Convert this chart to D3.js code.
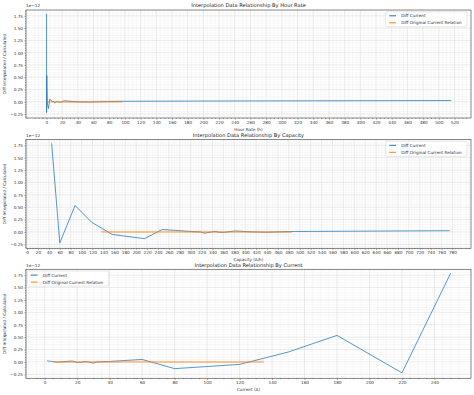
<!DOCTYPE html>
<html>
<head>
<meta charset="utf-8">
<script src="https://cdn.jsdelivr.net/npm/d3@7"></script>
<style>
  body { margin: 0; background: #fff; }
  svg { font-family: "DejaVu Sans", sans-serif; }
</style>
</head>
<body>
<svg id="chart" width="474" height="395"></svg>
<script>
// values are in units of 1e-12
const currentA   = [250, 220, 180, 150, 120, 80, 60, 40, 32, 30, 27, 25, 22, 20, 17, 15, 12, 10, 8, 7, 6, 5, 4, 3, 2, 1.5];
const capacityAh = [45, 60, 88, 118, 156, 215, 248, 300, 318, 325, 338, 345, 352, 360, 380, 392, 405, 420, 440, 455, 470, 490, 530, 590, 680, 775];
const hourRateH  = [0.18, 0.27, 0.49, 0.79, 1.3, 2.7, 4.1, 7.5, 9.9, 10.8, 12.5, 13.8, 16, 18, 22.4, 26.1, 33.8, 42, 55, 65, 78, 98, 132, 197, 340, 516];
const diffCurrent = [1.79, -0.22, 0.535, 0.2, -0.05, -0.135, 0.05, 0.01, 0.0, -0.025, 0.0, 0.01, -0.005, -0.01, 0.02, 0.015, 0.005, 0.0, -0.005, 0.0, 0.005, 0.01, 0.012, 0.015, 0.02, 0.025];

const origCurrentA   = [135, 120, 100, 80, 60, 40, 30, 20, 15, 10, 7, 5];
const origCapacityAh = [136, 156, 185, 215, 248, 300, 325, 360, 392, 420, 455, 485];
const origHourRateH  = [1.0, 1.3, 1.85, 2.7, 4.1, 7.5, 10.8, 18, 26.1, 42, 65, 97];
const origDiff       = [0.002, -0.003, 0.001, -0.002, 0.003, -0.001, 0.002, -0.003, 0.001, -0.002, 0.001, 0.0];

const yTicks = [-0.25, 0, 0.25, 0.5, 0.75, 1.0, 1.25, 1.5, 1.75];
const seriesNames = ["Diff Current", "Diff Original Current Relation"];

const BLUE = "#1f77b4", ORANGE = "#ff7f0e";
const LEFT = 26, RIGHT = 471;
const svg = d3.select("#chart");

const panels = [
    {title: "Interpolation Data Relationship By Hour Rate", xlabel: "Hour Rate (h)",
     x: hourRateH, ox: origHourRateH, xdom: [-26, 541], xmax: 520,
     top: 10, bottom: 118, legend: "right"},
    {title: "Interpolation Data Relationship By Capacity", xlabel: "Capacity (A/h)",
     x: capacityAh, ox: origCapacityAh, xdom: [-2, 814], xmax: 780,
     top: 139.5, bottom: 248.3, legend: "right"},
    {title: "Interpolation Data Relationship By Current", xlabel: "Current (A)",
     x: currentA, ox: origCurrentA, xdom: [-11.5, 262.5], xmax: 240,
     top: 269.3, bottom: 378.3, legend: "left"}
];

panels.forEach(drawPanel);

function drawPanel(p) {
    let xScale = d3.scaleLinear().domain(p.xdom).range([LEFT, RIGHT]);
    let yScale = d3.scaleLinear().domain([-0.33, 1.868]).range([p.bottom, p.top]);

    let g = svg.append("g");

    let xMajor = d3.range(0, p.xmax + 1, 20);
    let xMinor = d3.range(Math.ceil(p.xdom[0] / 5) * 5, p.xdom[1], 5).filter(v => v % 20 != 0);
    let yMinor = d3.range(-0.3, 1.86, 0.05).filter(v => Math.abs(v / 0.25 - Math.round(v / 0.25)) > 0.01);

    // grid
    let grid = g.append("g");
    grid.selectAll(".gxm").data(xMinor).join("line")
        .attr("x1", d => xScale(d)).attr("x2", d => xScale(d))
        .attr("y1", p.top).attr("y2", p.bottom)
        .attr("stroke", "#f0f0f0").attr("stroke-width", 0.5);
    grid.selectAll(".gym").data(yMinor).join("line")
        .attr("y1", d => yScale(d)).attr("y2", d => yScale(d))
        .attr("x1", LEFT).attr("x2", RIGHT)
        .attr("stroke", "#f0f0f0").attr("stroke-width", 0.5);
    grid.selectAll(".gx").data(xMajor).join("line")
        .attr("x1", d => xScale(d)).attr("x2", d => xScale(d))
        .attr("y1", p.top).attr("y2", p.bottom)
        .attr("stroke", "#dedede").attr("stroke-width", 0.6);
    grid.selectAll(".gy").data(yTicks).join("line")
        .attr("y1", d => yScale(d)).attr("y2", d => yScale(d))
        .attr("x1", LEFT).attr("x2", RIGHT)
        .attr("stroke", "#dedede").attr("stroke-width", 0.6);

    // lines
    let line = d3.line().x(d => xScale(d[0])).y(d => yScale(d[1]));
    let blue = d3.sort(p.x.map((v, i) => [v, diffCurrent[i]]), d => d[0]);
    let orange = d3.sort(p.ox.map((v, i) => [v, origDiff[i]]), d => d[0]);
    g.append("path").datum(blue).attr("d", line)
        .attr("fill", "none").attr("stroke", BLUE).attr("stroke-width", 0.9)
        .attr("stroke-opacity", 0.85);
    g.append("path").datum(orange).attr("d", line)
        .attr("fill", "none").attr("stroke", ORANGE).attr("stroke-width", 2)
        .attr("stroke-opacity", 0.45);

    // axes
    g.append("g").attr("transform", `translate(0,${p.bottom})`)
        .call(d3.axisBottom(xScale).tickValues(xMajor).tickSize(1.5).tickPadding(1.5).tickFormat(d3.format("d")));
    g.append("g").attr("transform", `translate(0,${p.bottom})`)
        .call(d3.axisBottom(xScale).tickValues(xMinor).tickSize(0.9).tickFormat(""));
    g.append("g").attr("transform", `translate(${LEFT},0)`)
        .call(d3.axisLeft(yScale).tickValues(yTicks).tickSize(1.5).tickPadding(1.5).tickFormat(d3.format(".2f")));
    g.append("g").attr("transform", `translate(${LEFT},0)`)
        .call(d3.axisLeft(yScale).tickValues(yMinor).tickSize(0.9).tickFormat(""));
    g.selectAll(".domain").remove();
    g.selectAll(".tick line").attr("stroke", "#333").attr("stroke-width", 0.5);
    g.selectAll(".tick text").attr("font-size", 4.2).attr("fill", "#333")
        .attr("font-family", "DejaVu Sans");

    // frame
    g.append("rect").attr("x", LEFT).attr("y", p.top)
        .attr("width", RIGHT - LEFT).attr("height", p.bottom - p.top)
        .attr("fill", "none").attr("stroke", "#555").attr("stroke-width", 0.7);

    // texts
    let mid = (LEFT + RIGHT) / 2;
    g.append("text").attr("x", mid).attr("y", p.top - 2.6)
        .attr("text-anchor", "middle").attr("font-size", 5.1).attr("fill", "#222")
        .text(p.title);
    g.append("text").attr("x", LEFT).attr("y", p.top - 2.6)
        .attr("font-size", 4.2).attr("fill", "#333").text("1e\u221212");
    g.append("text").attr("x", mid).attr("y", p.bottom + 12.6)
        .attr("text-anchor", "middle").attr("font-size", 4.2).attr("fill", "#333")
        .text(p.xlabel);
    g.append("text")
        .attr("transform", `translate(6.2,${(p.top + p.bottom) / 2}) rotate(-90)`)
        .attr("text-anchor", "middle").attr("font-size", 4.2).attr("fill", "#333")
        .text("Diff Interpolated / Calculated");

    // legend
    let lx = p.legend == "right" ? 385.7 : 27.3;
    let leg = g.append("g").attr("transform", `translate(${lx},${p.top + 1.8})`);
    leg.append("rect").attr("width", 81.3).attr("height", 15)
        .attr("rx", 1).attr("fill", "#fff").attr("fill-opacity", 0.85)
        .attr("stroke", "#d0d0d0").attr("stroke-width", 0.5);
    [BLUE, ORANGE].forEach((c, i) => {
        let yy = 4 + i * 7;
        leg.append("line").attr("x1", 3.5).attr("x2", 10.3).attr("y1", yy).attr("y2", yy)
            .attr("stroke", c).attr("stroke-width", 1);
        leg.append("text").attr("x", 15.5).attr("y", yy + 1.5)
            .attr("font-size", 4.2).attr("fill", "#333").text(seriesNames[i]);
    });
}
</script>
</body>
</html>
